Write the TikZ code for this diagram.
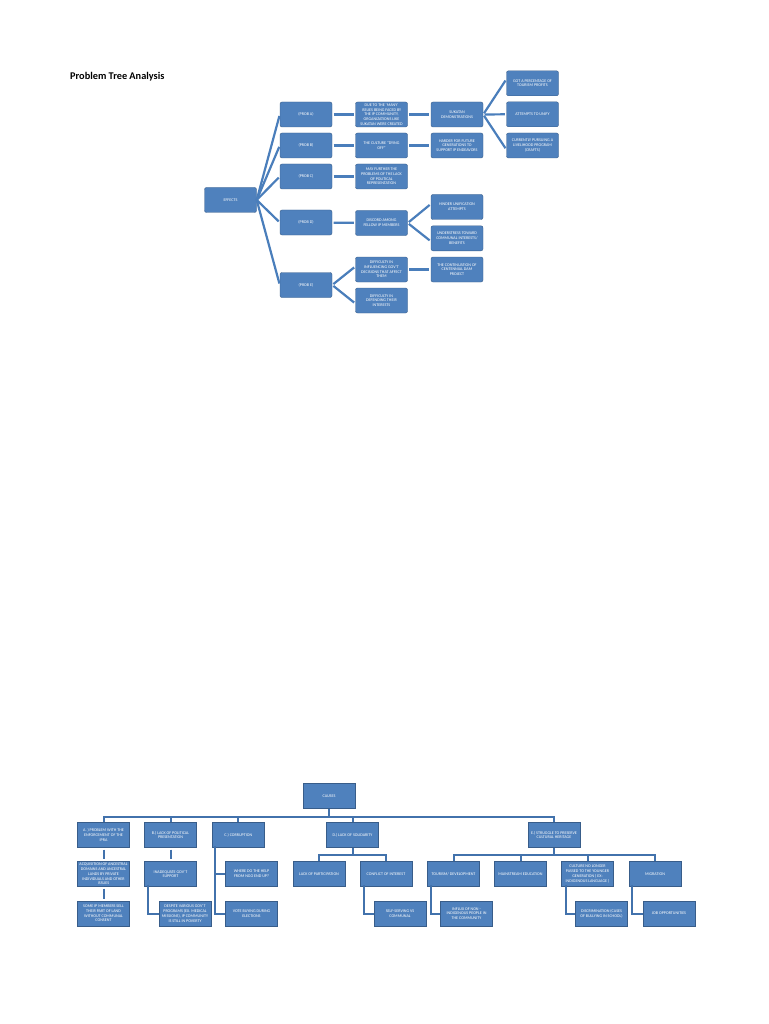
\documentclass[tikz,border=0pt]{standalone}
\usepackage{fontspec}
\setmainfont{Carlito}
\usepackage{tikz}
\usetikzlibrary{positioning,calc}

\definecolor{boxblue}{HTML}{4F81BD}
\definecolor{boxedge}{HTML}{385D8A}
\definecolor{linkblue}{HTML}{4A7EBB}
\definecolor{busblue}{HTML}{4272AC}

\tikzset{
	prob/.style={draw=boxedge, line width=0.4pt, fill=boxblue, rounded corners=2pt,
		minimum width=52pt, minimum height=25pt, inner sep=0.3pt, align=center,
		text=white, font=\fontsize{4.1}{4.75}\selectfont},
	cause/.style={prob, rounded corners=0pt},
	fan/.style={linkblue, line width=2.2pt, shorten <=1.5pt, shorten >=1.5pt},
	link/.style={busblue, line width=2pt}
}

\begin{document}
\begin{tikzpicture}[x=1pt, y=-1pt]
	\useasboundingbox (0,0) rectangle (768,1024);
	\node[anchor=west, inner sep=0pt, font=\fontsize{10.3}{12}\selectfont\bfseries] (title) at (70,77) {Problem Tree Analysis};

	% effects
	\node[prob] (eff) at (230.5,200) {EFFECTS};
	\node[prob] (pa) at (306,114.5) {(PROB A)};
	\node[prob] (pb) at (306,145.5) {(PROB B)};
	\node[prob] (pc) at (306,176.5) {(PROB C)};
	\node[prob] (pd) at (306,222.5) {(PROB D)};
	\node[prob] (pe) at (306,285) {(PROB E)};
	\node[prob] (a2) at (381.5,114.5) {DUE TO THE `MANY'\\ ISSUES BEING FACED BY\\ THE IP COMMUNITY,\\ ORGANIZATIONS LIKE\\ SUKATAN WERE CREATED};
	\node[prob] (b2) at (381.5,145.5) {THE CULTURE ``DYING\\ OFF''};
	\node[prob] (c2) at (381.5,176.5) {MAY FURTHER THE\\ PROBLEMS OF THE LACK\\ OF POLITICAL\\ REPRESENTATION};
	\node[prob] (d2) at (381.5,223) {DISCORD AMONG\\ FELLOW IP MEMBERS};
	\node[prob] (e1) at (381.5,269.5) {DIFFICULTY IN\\ INFLUENCING GOV'T\\ DECISIONS THAT AFFECT\\ THEM};
	\node[prob] (e2) at (381.5,300.5) {DIFFICULTY IN\\ DEFENDING THEIR\\ INTERESTS};
	\node[prob] (suk) at (457,114.5) {SUKATAN\\ DEMONSTRATIONS};
	\node[prob] (hard) at (457,145.5) {HARDER FOR FUTURE\\ GENERATIONS TO\\ SUPPORT IP ENDEAVORS};
	\node[prob] (hind) at (457,207) {HINDER UNIFICATION\\ ATTEMPTS};
	\node[prob] (under) at (457,238.3) {UNDERSTRESS TOWARD\\ COMMUNAL INTERESTS/\\ BENEFITS};
	\node[prob] (cont) at (457,269.5) {THE CONTINUATION OF\\ CENTENNIAL DAM\\ PROJECT};
	\node[prob] (got) at (532.5,83.3) {GOT A PERCENTAGE OF\\ TOURISM PROFITS};
	\node[prob] (att) at (532.5,114.3) {ATTEMPTS TO UNIFY};
	\node[prob] (cur) at (532.5,145.5) {CURRENTLY PURSUING A\\ LIVELIHOOD PROGRAM\\ (CRAFTS)};

	\foreach \p in {pa,pb,pc,pd,pe}
		\draw[fan, shorten <=0pt] (eff.east) -- (\p.west);
	\draw[fan] (pa) -- (a2);
	\draw[fan] (pb) -- (b2);
	\draw[fan] (pc) -- (c2);
	\draw[fan] (pd) -- (d2);
	\draw[fan] (pe.east) -- ([yshift=3pt]e1.west);
	\draw[fan] (pe.east) -- ([yshift=-3pt]e2.west);
	\draw[fan] (a2) -- (suk);
	\draw[fan] (b2) -- (hard);
	\draw[fan] (e1) -- (cont);
	\draw[fan] (d2.east) -- ([yshift=3pt]hind.west);
	\draw[fan] (d2.east) -- ([yshift=-3pt]under.west);
	\draw[fan] (suk.east) -- ([yshift=4pt]got.west);
	\draw[fan] (suk.east) -- (att.west);
	\draw[fan] (suk.east) -- ([yshift=-4pt]cur.west);

	% causes
	\node[cause] (causes) at (329,795.8) {CAUSES};
	\node[cause] (a) at (103.5,835) {A. ) PROBLEM WITH THE\\ ENFORCEMENT OF THE\\ IPRA};
	\node[cause] (b) at (170.5,835) {B.) LACK OF POLITICAL\\ PRESENTATION};
	\node[cause] (c) at (238.3,835) {C.) CORRUPTION};
	\node[cause] (d) at (352.5,835) {D.) LACK OF SOLIDARITY};
	\node[cause] (e) at (554,835) {E.) STRUGGLE TO PRESERVE\\ CULTURAL HERITAGE};
	\node[cause] (aa) at (103.5,874) {ACQUISITION OF ANCESTRAL\\ DOMAINS AND ANCESTRAL\\ LANDS BY PRIVATE\\ INDIVIDUALS AND OTHER\\ ISSUES};
	\node[cause] (bb) at (170.5,874) {INADEQUATE GOV'T\\ SUPPORT};
	\node[cause] (cc) at (251.5,874) {WHERE DO THE HELP\\ FROM NGO END UP?};
	\node[cause] (lp) at (319,874) {LACK OF PARTICIPATION};
	\node[cause] (ci) at (386,874) {CONFLICT OF INTEREST};
	\node[cause] (tour) at (453.5,874) {TOURISM/ DEVELOPMENT};
	\node[cause] (edu) at (520.5,874) {MAINSTREAM EDUCATION};
	\node[cause] (cult) at (587.5,874) {CULTURE NO LONGER\\ PASSED TO THE YOUNGER\\ GENERATION ( EX:\\ INDIGENOUS LANGUAGE )};
	\node[cause] (mig) at (655,874) {MIGRATION};
	\node[cause] (aaa) at (103.5,913.5) {SOME IP MEMBERS SELL\\ THEIR PART OF LAND\\ WITHOUT COMMUNAL\\ CONSENT};
	\node[cause] (bbb) at (185,913.5) {DESPITE VARIOUS GOV'T\\ PROGRAMS (EX. MEDICAL\\ MISSIONS), IP COMMUNITY\\ IS STILL IN POVERTY};
	\node[cause] (ccc) at (251.5,913.5) {VOTE BUYING DURING\\ ELECTIONS};
	\node[cause] (self) at (400,913.5) {SELF-SERVING VS\\ COMMUNAL};
	\node[cause] (infl) at (466.5,913.5) {INFLUX OF NON -\\ INDIGENOUS PEOPLE IN\\ THE COMMUNITY};
	\node[cause] (disc) at (601.5,913.5) {DISCRIMINATION (CASES\\ OF BULLYING IN SCHOOL)};
	\node[cause] (job) at (669,913.5) {JOB OPPORTUNITIES};

	\coordinate (bus) at (329,817);
	\coordinate (dbus) at (352.5,855);
	\coordinate (ebus) at (554,855);
	\draw[link] (causes) -- (bus);
	\draw[link] (a.north) |- (bus) -| (e.north);
	\draw[link] (b.north) -- (b.north |- bus);
	\draw[link] (c.north) -- (c.north |- bus);
	\draw[link] (d.north) -- (d.north |- bus);
	\draw[link] (d) -- (dbus);
	\draw[link] (lp.north) |- (dbus) -| (ci.north);
	\draw[link] (e) -- (ebus);
	\draw[link] (tour.north) |- (ebus) -| (mig.north);
	\draw[link] (edu.north) -- (edu.north |- ebus);
	\draw[link] (cult.north) -- (cult.north |- ebus);
	\draw[link, shorten <=2pt, shorten >=2pt] (a) -- (aa);
	\draw[link, shorten <=2pt, shorten >=2pt] (aa) -- (aaa);
	\draw[link, shorten <=2pt, shorten >=2pt] (b) -- (bb);
	\draw[link] ([xshift=-23pt, yshift=2pt]c.south) |- (ccc.west);
	\draw[link] (cc.west) -- ++(-10.5pt,0);
	\draw[link] ([xshift=-22.5pt, yshift=2pt]bb.south) |- (bbb.west);
	\draw[link] ([xshift=-22.5pt, yshift=2pt]ci.south) |- (self.west);
	\draw[link] ([xshift=-22.5pt, yshift=2pt]tour.south) |- (infl.west);
	\draw[link] ([xshift=-22pt, yshift=2pt]cult.south) |- (disc.west);
	\draw[link] ([xshift=-23pt, yshift=2pt]mig.south) |- (job.west);
\end{tikzpicture}
\end{document}
